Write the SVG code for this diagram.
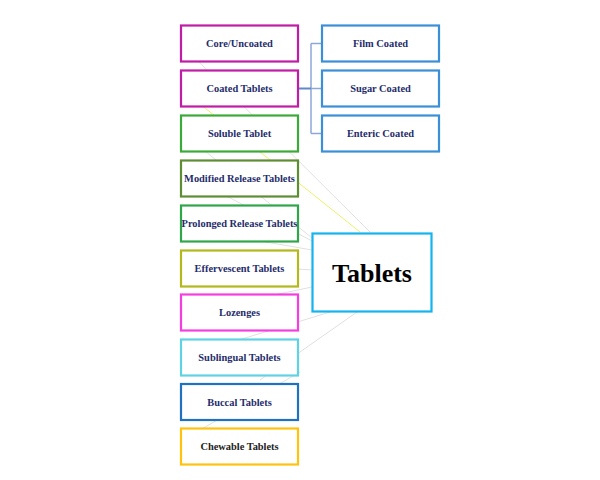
<svg xmlns="http://www.w3.org/2000/svg" width="600" height="480" viewBox="0 0 600 480">
<style>
.box{fill:#fff;stroke-width:2.2}
.lbl{font-family:"Liberation Serif","Times New Roman",serif;font-weight:bold;font-size:10.4px;fill:#1f2d6b;text-anchor:middle;dominant-baseline:central}
.faint{stroke:#e0e0e0;stroke-width:1;fill:none}
.tree{stroke:#8ea6d8;stroke-width:1.5;fill:none}
</style>
<rect width="600" height="480" fill="#fff"/>
<g id="connectors">
<line class="faint" x1="180" y1="43" x2="370" y2="232"/>
<line x1="180" y1="88" x2="360" y2="232" stroke="#eef06a" stroke-width="1"/>
<line class="faint" x1="200" y1="147" x2="312" y2="238"/>
<line class="faint" x1="215" y1="190" x2="312" y2="241"/>
<line class="faint" x1="180" y1="227" x2="312" y2="250"/>
<line class="faint" x1="250" y1="266" x2="312" y2="270"/>
<line class="faint" x1="250" y1="300" x2="312" y2="287"/>
<line class="faint" x1="180" y1="358" x2="330" y2="312"/>
<line class="faint" x1="260" y1="380" x2="357" y2="312"/>
<line class="faint" x1="200" y1="430" x2="300" y2="372"/>
<path class="tree" d="M311 43.5V133.5M311 43.5H322M311 88.5H322M311 133.5H322"/>
<path d="M299 88.5H311" stroke="#5f88c9" stroke-width="2" fill="none"/>
</g>
<g id="core"><rect class="box" x="181" y="25.5" width="117" height="36" stroke="#c01ca6"/><text class="lbl" x="239.5" y="43.5">Core/Uncoated</text></g>
<g id="coated"><rect class="box" x="181" y="70.5" width="117" height="36" stroke="#c01ca6"/><text class="lbl" x="239.5" y="88.5">Coated Tablets</text></g>
<g id="soluble"><rect class="box" x="181" y="115.5" width="117" height="36" stroke="#3aab38"/><text class="lbl" x="239.5" y="133.5">Soluble Tablet</text></g>
<g id="modified"><rect class="box" x="181" y="160.5" width="117" height="36" stroke="#5e8d34"/><text class="lbl" x="239.5" y="178.5">Modified Release Tablets</text></g>
<g id="prolonged"><rect class="box" x="181" y="205.5" width="117" height="36" stroke="#2fa64a"/><text class="lbl" x="239.5" y="223.5">Prolonged Release Tablets</text></g>
<g id="effervescent"><rect class="box" x="181" y="250.5" width="117" height="36" stroke="#b3b81c"/><text class="lbl" x="239.5" y="268">Effervescent Tablets</text></g>
<g id="lozenges"><rect class="box" x="181" y="294.5" width="117" height="36" stroke="#f53ee0"/><text class="lbl" x="239.5" y="312.5">Lozenges</text></g>
<g id="sublingual"><rect class="box" x="181" y="339.5" width="117" height="36" stroke="#5fd2e4"/><text class="lbl" x="239.5" y="357.5">Sublingual Tablets</text></g>
<g id="buccal"><rect class="box" x="181" y="384" width="117" height="36" stroke="#1f72c1"/><text class="lbl" x="239.5" y="402">Buccal Tablets</text></g>
<g id="chewable"><rect class="box" x="181" y="428.5" width="117" height="36" stroke="#ffc20e"/><text class="lbl" x="239.5" y="446.5" style="fill:#222">Chewable Tablets</text></g>
<g id="film"><rect class="box" x="322" y="25.5" width="117" height="36" stroke="#3a8fd8"/><text class="lbl" x="380.5" y="43.5">Film Coated</text></g>
<g id="sugar"><rect class="box" x="322" y="70.5" width="117" height="36" stroke="#3a8fd8"/><text class="lbl" x="380.5" y="88.5">Sugar Coated</text></g>
<g id="enteric"><rect class="box" x="322" y="115.5" width="117" height="36" stroke="#3a8fd8"/><text class="lbl" x="380.5" y="133.5">Enteric Coated</text></g>
<g id="tablets"><rect class="box" x="312.5" y="233.5" width="119" height="78" stroke="#14b4ee" stroke-width="3"/><text x="372" y="273" style="font-family:'Liberation Serif','Times New Roman',serif;font-weight:bold;font-size:26px;fill:#000;text-anchor:middle;dominant-baseline:central">Tablets</text></g>
</svg>
